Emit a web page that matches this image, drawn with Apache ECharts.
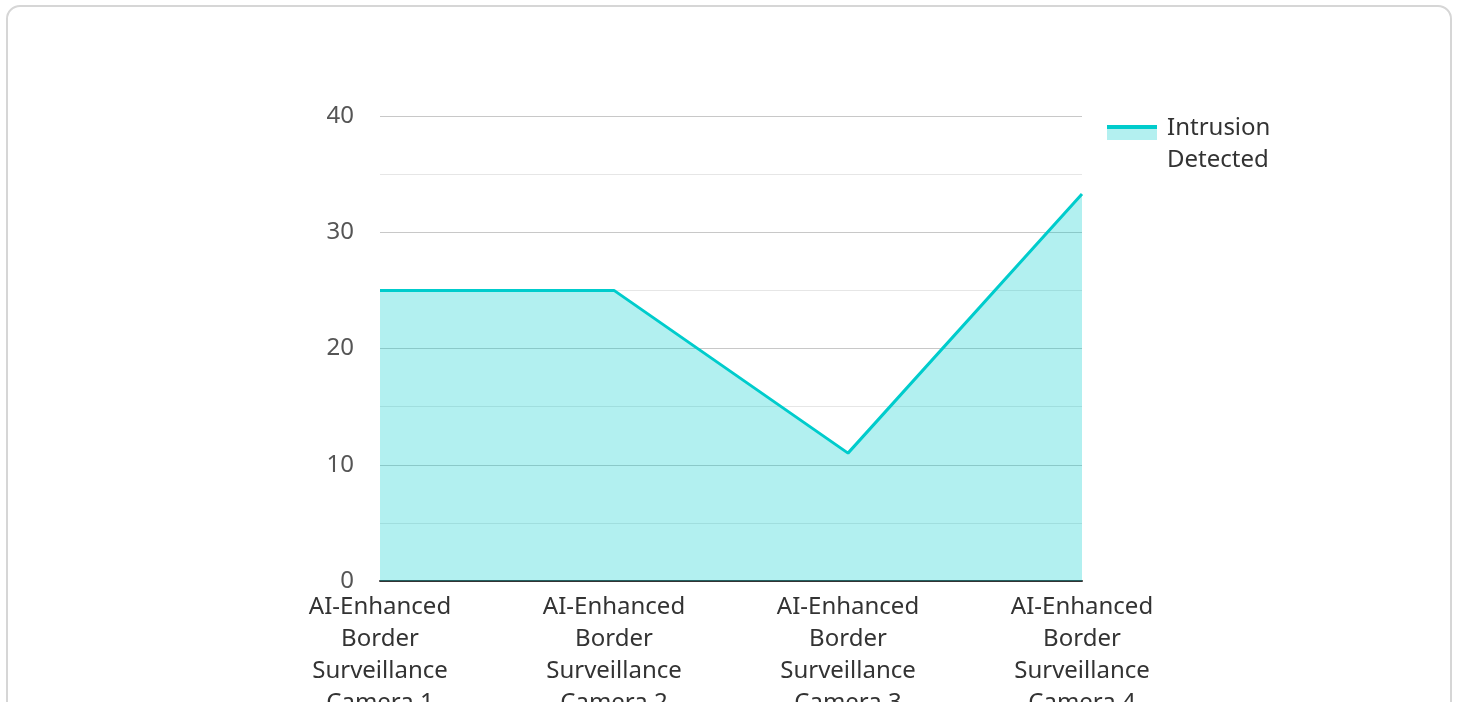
<!DOCTYPE html>
<html>
<head>
<meta charset="utf-8">
<script src="https://cdn.jsdelivr.net/npm/echarts@6/dist/echarts.min.js"></script>
<style>
  html, body { margin: 0; padding: 0; background: #fff; overflow: hidden; }
  .card {
    position: absolute; left: 6px; top: 5px; width: 1442px; height: 740px;
    border: 2px solid #d6d6d6; border-radius: 14px; background: #fff;
  }
  #chart { position: absolute; left: 0; top: 0; width: 1458px; height: 702px; }
</style>
</head>
<body>
<div class="card"></div>
<div id="chart"></div>
<script>
// data
const cameras = [
    'AI-Enhanced Border Surveillance Camera 1',
    'AI-Enhanced Border Surveillance Camera 2',
    'AI-Enhanced Border Surveillance Camera 3',
    'AI-Enhanced Border Surveillance Camera 4'
];
const intrusions = [25, 25, 11, 33.3];
const seriesName = 'Intrusion Detected';

const lineColor = '#00cccc';
const fillColor = '#b3f0f0';

// split "AI-Enhanced Border Surveillance Camera 1" into lines
function wrapLabel(s) {
    const w = s.split(' ');
    const last = w.splice(-2).join(' ');
    return w.concat([last]).join('\n');
}

const chart = echarts.init(document.getElementById('chart'));

const option = {
    animation: false,
    textStyle: { fontFamily: 'Noto Sans' },
    legend: {
        left: 1102,
        top: 84,
        orient: 'vertical',
        icon: 'rect',
        itemWidth: 50,
        itemHeight: 15,
        itemStyle: {
            color: new echarts.graphic.LinearGradient(0, 0, 0, 1, [
                { offset: 0, color: lineColor },
                { offset: 0.27, color: lineColor },
                { offset: 0.27, color: fillColor },
                { offset: 1, color: fillColor }
            ])
        },
        formatter: () => '{gap|}\n{t|Intrusion}\n{t|Detected}',
        textStyle: {
            fontSize: 24,
            lineHeight: 32,
            color: '#333',
            padding: [0, 0, 0, 5],
            rich: {
                gap: { fontSize: 1, lineHeight: 23 },
                t: { fontSize: 24, lineHeight: 32, color: '#333' }
            }
        },
        data: [seriesName]
    },
    grid: {
        left: 380,
        right: 376,
        top: 116,
        bottom: 121,
        containLabel: false,
        outerBoundsMode: 'none'
    },
    xAxis: {
        type: 'category',
        data: cameras,
        boundaryGap: false,
        axisLine: { lineStyle: { color: '#333', width: 2 } },
        axisTick: { show: false },
        axisLabel: {
            formatter: wrapLabel,
            fontSize: 24,
            lineHeight: 32,
            color: '#333',
            margin: 10,
            interval: 0
        },
        splitLine: { show: false }
    },
    yAxis: {
        type: 'value',
        min: 0,
        max: 40,
        interval: 5,
        axisLine: { show: false },
        axisTick: { show: false },
        axisLabel: {
            fontSize: 24,
            color: '#555',
            margin: 26,
            formatter: v => (v % 10 === 0 ? String(v) : '')
        },
        splitLine: {
            lineStyle: { color: ['#c8c8c8', '#e6e6e6'], width: 1 }
        }
    },
    series: [{
        name: seriesName,
        type: 'line',
        data: intrusions,
        symbol: 'none',
        lineStyle: { color: lineColor, width: 3 },
        itemStyle: { color: lineColor },
        areaStyle: { color: 'rgba(0, 204, 204, 0.3)', opacity: 1 }
    }]
};

chart.setOption(option);

window.addEventListener('resize', function () {
    chart.resize();
});
</script>
</body>
</html>
